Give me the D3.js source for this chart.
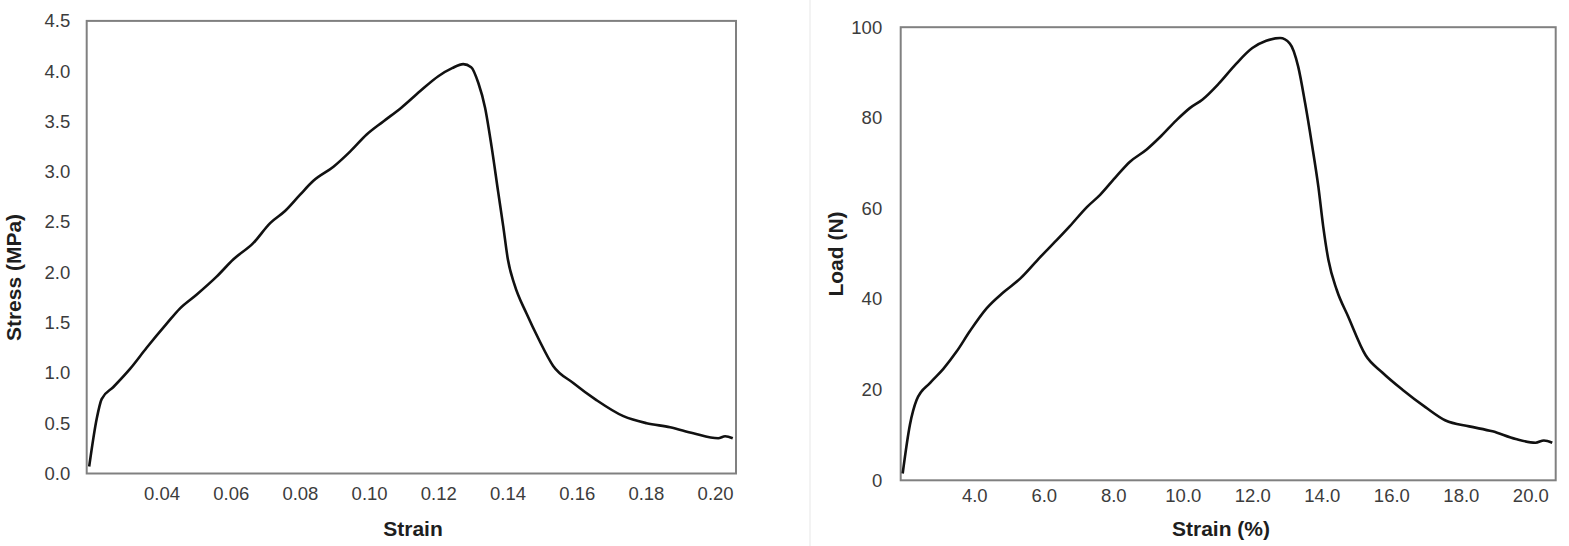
<!DOCTYPE html>
<html>
<head>
<meta charset="utf-8">
<script src="https://cdn.jsdelivr.net/npm/d3@7"></script>
<style>
    body { margin: 0; background: #fff; }
    text { font-family: Arial, "Liberation Sans", sans-serif; }
</style>
</head>
<body>
<div id="visualization"></div>
<script>
const width = 1569;
const height = 546;

// Left panel: stress vs strain
const stressStrain = [0.0191, 0.0213, 0.0227, 0.0261, 0.0309, 0.0357, 0.0415, 0.0453, 0.0502, 0.0560,
    0.0608, 0.0665, 0.0714, 0.0757, 0.0800, 0.0839, 0.0897, 0.0945, 0.0993, 0.1041,
    0.1094, 0.1147, 0.1200, 0.1240, 0.1272, 0.1295, 0.1316, 0.1335, 0.1354, 0.1373,
    0.1388, 0.1401, 0.1420, 0.1455, 0.1491, 0.1532, 0.1590, 0.1657, 0.1735, 0.1802,
    0.1870, 0.1937, 0.2009, 0.2029, 0.2051];
const stressValues = [0.07, 0.55, 0.74, 0.86, 1.04, 1.25, 1.49, 1.64, 1.78, 1.96,
    2.13, 2.29, 2.49, 2.61, 2.77, 2.91, 3.05, 3.20, 3.37, 3.50,
    3.64, 3.80, 3.95, 4.03, 4.07, 4.04, 3.88, 3.64, 3.25, 2.80,
    2.45, 2.13, 1.88, 1.59, 1.33, 1.07, 0.90, 0.73, 0.57, 0.50,
    0.46, 0.40, 0.35, 0.37, 0.35];
const stressXTicks = [0.04, 0.06, 0.08, 0.10, 0.12, 0.14, 0.16, 0.18, 0.20];
const stressYTicks = [0, 0.5, 1.0, 1.5, 2.0, 2.5, 3.0, 3.5, 4.0, 4.5];

// Right panel: load vs strain (%)
const loadStrain = [1.94, 2.15, 2.34, 2.73, 3.11, 3.49, 3.88, 4.36, 4.84, 5.32,
    5.89, 6.37, 6.75, 7.24, 7.62, 8.10, 8.48, 8.96, 9.34, 9.82,
    10.21, 10.56, 11.04, 11.52, 12.00, 12.40, 12.80, 13.08, 13.32, 13.52,
    13.71, 13.90, 14.04, 14.19, 14.43, 14.76, 15.26, 15.74, 16.32, 16.99,
    17.56, 18.24, 18.91, 19.58, 20.15, 20.39, 20.63];
const loadValues = [1.5, 12.3, 17.7, 21.5, 24.6, 28.4, 33.0, 38.0, 41.5, 44.5,
    49.2, 53.0, 56.1, 60.3, 63.0, 67.2, 70.3, 73.0, 75.7, 79.5,
    82.2, 84.0, 87.6, 91.8, 95.4, 97.0, 97.6, 96.4, 91.3, 83.2,
    74.4, 64.8, 56.0, 48.6, 42.0, 36.1, 27.6, 23.8, 20.0, 16.1,
    13.2, 11.9, 10.8, 9.1, 8.3, 8.8, 8.3];
const loadXTicks = [4, 6, 8, 10, 12, 14, 16, 18, 20];
const loadYTicks = [0, 20, 40, 60, 80, 100];

const svg = d3.select("#visualization").append("svg")
    .attr("width", width)
    .attr("height", height);

// faint divider between the two pictures
svg.append("line")
    .attr("x1", 810).attr("x2", 810)
    .attr("y1", 0).attr("y2", height)
    .attr("stroke", "#efefef")
    .attr("stroke-width", 1.5);

function drawPanel(opts) {
    const x = d3.scaleLinear().domain(opts.xDomain).range([opts.left, opts.right]);
    const y = d3.scaleLinear().domain(opts.yDomain).range([opts.bottom, opts.top]);

    const g = svg.append("g");

    // x axis labels
    const xAxis = g.append("g")
        .attr("transform", `translate(0, ${opts.bottom})`)
        .call(d3.axisBottom(x).tickValues(opts.xTicks).tickFormat(opts.xFormat)
            .tickSize(0).tickPadding(opts.xPad));
    xAxis.select(".domain").remove();
    xAxis.selectAll("text")
        .attr("font-size", "18.5px")
        .attr("fill", "#3c3c3c")
        .attr("font-family", "Arial, 'Liberation Sans', sans-serif");

    // y axis labels
    const yAxis = g.append("g")
        .attr("transform", `translate(${opts.left}, 0)`)
        .call(d3.axisLeft(y).tickValues(opts.yTicks).tickFormat(opts.yFormat)
            .tickSize(0).tickPadding(opts.yPad));
    yAxis.select(".domain").remove();
    yAxis.selectAll("text")
        .attr("font-size", "18.5px")
        .attr("fill", "#3c3c3c")
        .attr("font-family", "Arial, 'Liberation Sans', sans-serif");

    // plot frame
    g.append("rect")
        .attr("x", opts.left)
        .attr("y", opts.top)
        .attr("width", opts.right - opts.left)
        .attr("height", opts.bottom - opts.top)
        .attr("fill", "none")
        .attr("stroke", "#808080")
        .attr("stroke-width", 2);

    const line = d3.line()
        .x(d => x(d[0]))
        .y(d => y(d[1]))
        .curve(d3.curveMonotoneX);

    g.append("path")
        .datum(d3.zip(opts.xs, opts.ys))
        .attr("d", line)
        .attr("fill", "none")
        .attr("stroke", "#111")
        .attr("stroke-width", 2.6)
        .attr("stroke-linejoin", "round");

    // axis titles
    g.append("text")
        .attr("x", opts.xTitlePos[0])
        .attr("y", opts.xTitlePos[1])
        .attr("dy", "0.35em")
        .attr("text-anchor", "middle")
        .attr("font-size", "21px")
        .attr("font-weight", "bold")
        .attr("fill", "#1e1e1e")
        .text(opts.xTitle);

    g.append("text")
        .attr("transform", `translate(${opts.yTitlePos[0]}, ${opts.yTitlePos[1]}) rotate(-90)`)
        .attr("dy", "0.35em")
        .attr("text-anchor", "middle")
        .attr("font-size", "21px")
        .attr("font-weight", "bold")
        .attr("fill", "#1e1e1e")
        .text(opts.yTitle);
}

drawPanel({
    left: 86.7, right: 736, top: 20.9, bottom: 473.5,
    xDomain: [0.01838, 0.20604], yDomain: [0, 4.5],
    xTicks: stressXTicks, yTicks: stressYTicks,
    xFormat: d3.format(".2f"), yFormat: d3.format(".1f"),
    xPad: 13, yPad: 16.5,
    xs: stressStrain, ys: stressValues,
    xTitle: "Strain", xTitlePos: [413, 528.5],
    yTitle: "Stress (MPa)", yTitlePos: [13.5, 277.5]
});

drawPanel({
    left: 900.7, right: 1555.7, top: 27.2, bottom: 480.3,
    xDomain: [1.883, 20.729], yDomain: [0, 100],
    xTicks: loadXTicks, yTicks: loadYTicks,
    xFormat: d3.format(".1f"), yFormat: d3.format("d"),
    xPad: 9, yPad: 18.5,
    xs: loadStrain, ys: loadValues,
    xTitle: "Strain (%)", xTitlePos: [1221, 529],
    yTitle: "Load (N)", yTitlePos: [835.5, 254]
});
</script>
</body>
</html>
